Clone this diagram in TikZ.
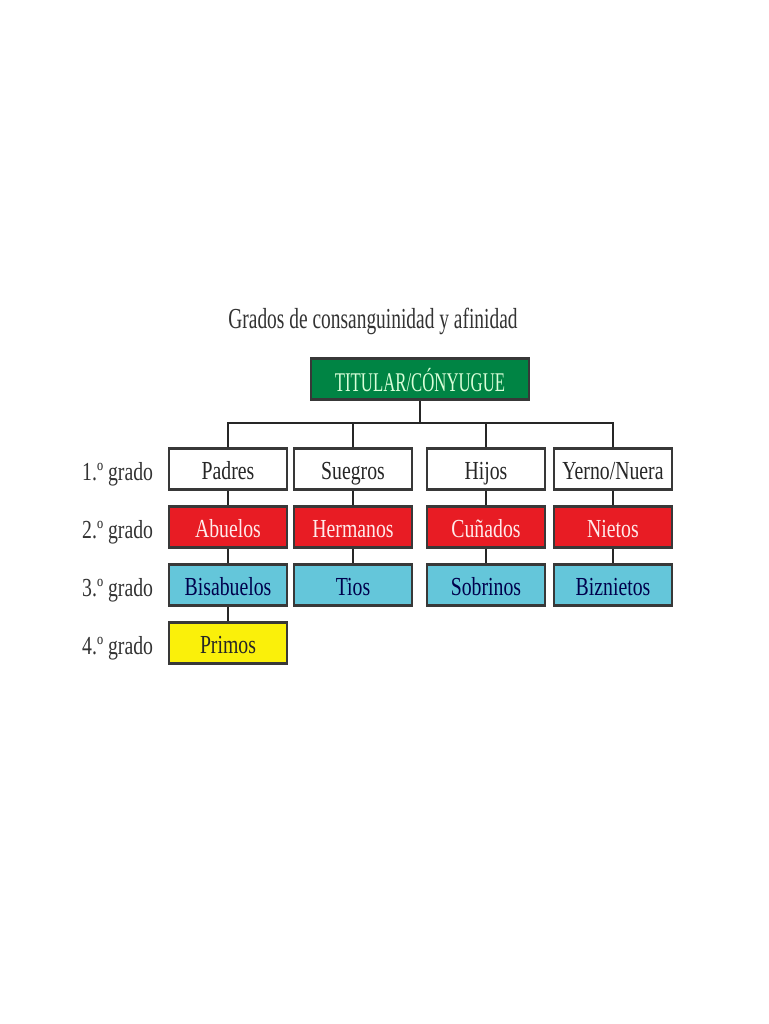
\documentclass[tikz,border=0pt]{standalone}
\usepackage{fontspec}
\setmainfont{Liberation Serif}[FakeStretch=0.76]
\newfontfamily\titlefont{Liberation Serif}[FakeStretch=0.67]
\newfontfamily\capsfont{Liberation Serif}[FakeStretch=0.62]
\definecolor{titgreen}{RGB}{0,132,68}
\definecolor{gradred}{RGB}{232,28,36}
\definecolor{gradblue}{RGB}{100,198,218}
\definecolor{gradyellow}{RGB}{250,240,10}
\begin{document}
\begin{tikzpicture}[x=1pt,y=-1pt,
	kinbox/.style={draw=black!78, line width=2.4pt, minimum width=118pt,
		minimum height=41pt, inner sep=0pt, text height=21pt, text depth=0pt,
		font=\fontsize{26}{26}\selectfont},
	firstbox/.style={kinbox, fill=white, text=black!85},
	secondbox/.style={kinbox, fill=gradred, text=red!8},
	thirdbox/.style={kinbox, fill=gradblue, text=blue!30!black},
	fourthbox/.style={kinbox, fill=gradyellow, text=black!85},
	gradelabel/.style={anchor=base west, inner sep=0pt, text=black!80,
		font=\fontsize{26}{26}\selectfont},
	link/.style={draw=black!85, line width=1.8pt}]
\useasboundingbox[fill=white] (0,0) rectangle (768,1024);

\node[anchor=base, inner sep=0pt, text=black!80, font=\titlefont\fontsize{29}{29}\selectfont]
	(title) at (373,328) {Grados de consanguinidad y afinidad};
\node[kinbox, fill=titgreen, text=green!15, minimum width=218pt, text height=25pt,
	font=\capsfont\fontsize{27}{27}\selectfont] (titular) at (420,379) {TITULAR/CÓNYUGUE};

\node[firstbox] (padres) at (228,469) {Padres};
\node[firstbox] (suegros) at (353,469) {Suegros};
\node[firstbox] (hijos) at (486,469) {Hijos};
\node[firstbox] (yerno) at (613,469) {Yerno/Nuera};

\node[secondbox] (abuelos) at (228,527) {Abuelos};
\node[secondbox] (hermanos) at (353,527) {Hermanos};
\node[secondbox] (cunados) at (486,527) {Cuñados};
\node[secondbox] (nietos) at (613,527) {Nietos};

\node[thirdbox] (bisabuelos) at (228,585) {Bisabuelos};
\node[thirdbox] (tios) at (353,585) {Tios};
\node[thirdbox] (sobrinos) at (486,585) {Sobrinos};
\node[thirdbox] (biznietos) at (613,585) {Biznietos};

\node[fourthbox] (primos) at (228,643) {Primos};

\foreach \g/\y in {1/480,2/538,3/596,4/654}
	\node[gradelabel] (grado\g) at (82,\y) {\g.º grado};

\coordinate (bus) at (420,423);
\draw[link] (titular.south) -- (bus);
\draw[link] (padres.north) |- (bus) -| (yerno.north);
\draw[link] (suegros.north) -- (suegros.north |- bus);
\draw[link] (hijos.north) -- (hijos.north |- bus);

\draw[link] (padres) -- (abuelos);
\draw[link] (abuelos) -- (bisabuelos);
\draw[link] (bisabuelos) -- (primos);
\draw[link] (suegros) -- (hermanos);
\draw[link] (hermanos) -- (tios);
\draw[link] (hijos) -- (cunados);
\draw[link] (cunados) -- (sobrinos);
\draw[link] (yerno) -- (nietos);
\draw[link] (nietos) -- (biznietos);
\end{tikzpicture}
\end{document}
